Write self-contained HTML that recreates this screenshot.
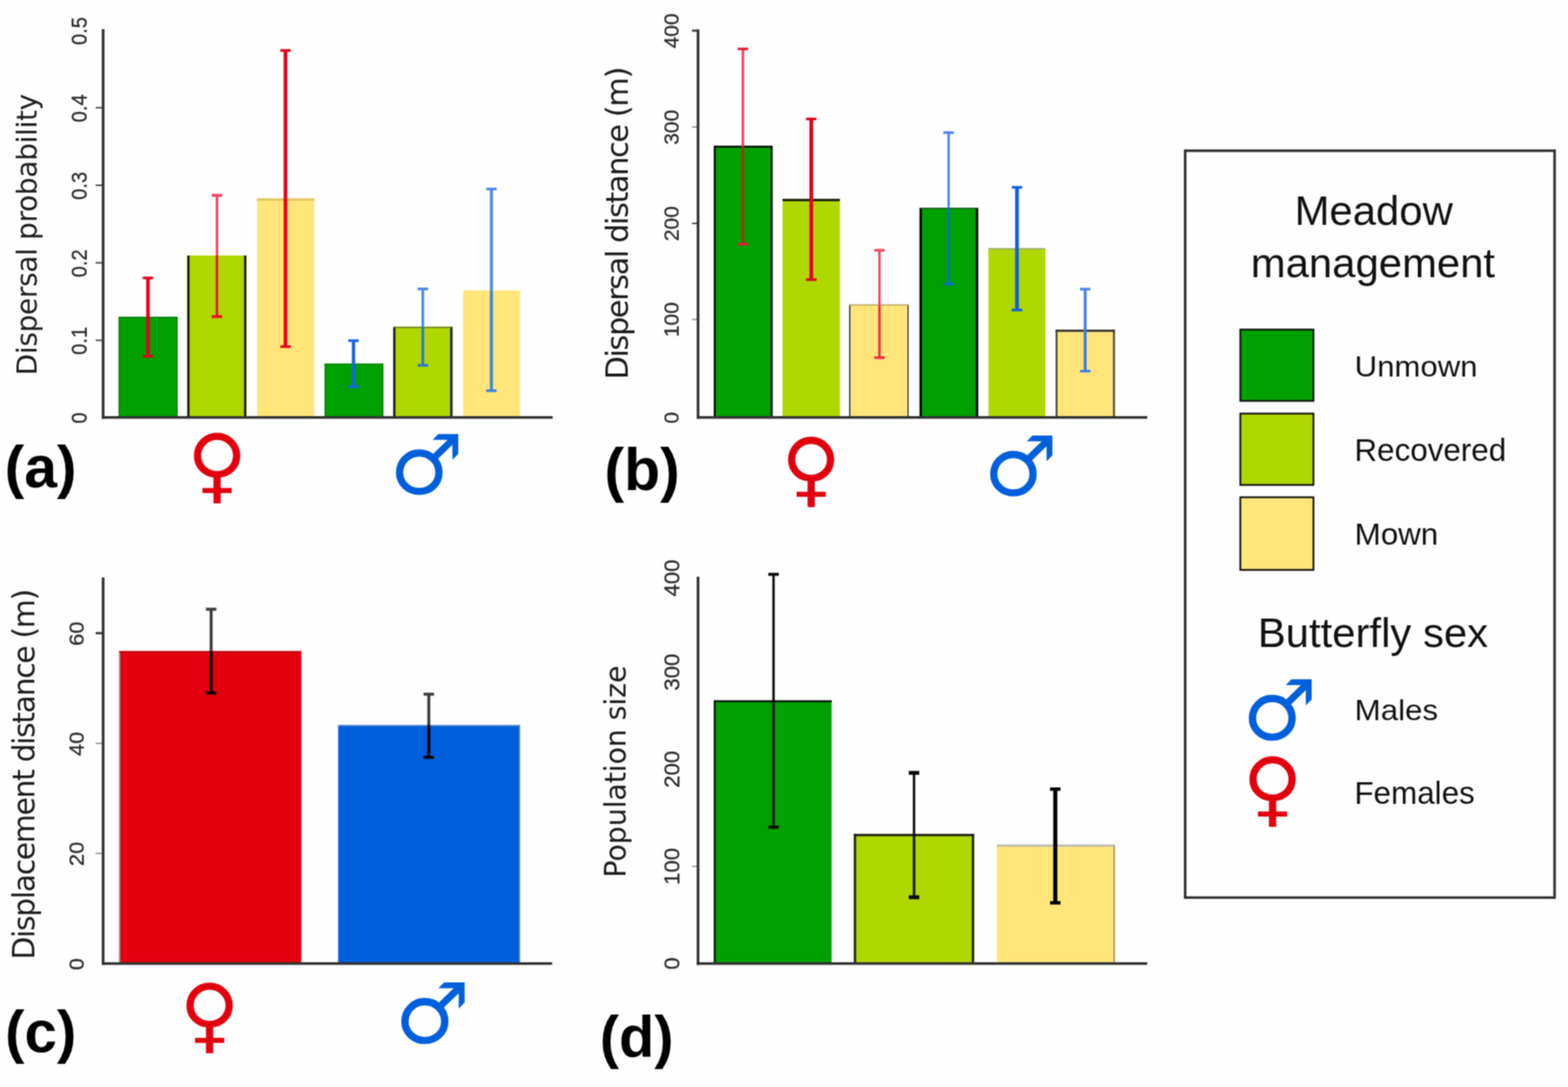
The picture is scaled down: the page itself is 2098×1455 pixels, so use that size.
<!DOCTYPE html>
<html lang="en">
<head>
<meta charset="utf-8">
<title>Dispersal figure</title>
<style>
html,body{margin:0;padding:0;background:#fefefe;}
body{width:2098px;height:1455px;overflow:hidden;}
svg{display:block;}
#wrap{width:2098px;height:1455px;}
text{font-family:"Liberation Sans",sans-serif;fill:#111;}
.tk{font-size:28.4px;fill:#2a2a2a;stroke:#2a2a2a;stroke-width:0.35px;}
.ax{font-family:"DejaVu Sans","Liberation Sans",sans-serif;font-size:36.7px;fill:#1c1c1c;}
.pl{font-family:"Liberation Sans",sans-serif;font-weight:bold;font-size:79px;fill:#000;}
.sym{font-family:"DejaVu Sans","Liberation Sans",sans-serif;font-size:112.5px;}
.lt{font-size:56px;fill:#111;}
.li{font-size:40px;fill:#111;}
</style>
</head>
<body>
<div id="wrap">
<svg width="2098" height="1455" viewBox="0 0 2098 1455">
<defs><filter id="soft" x="0" y="0" width="2098" height="1455" filterUnits="userSpaceOnUse" color-interpolation-filters="sRGB"><feConvolveMatrix order="3" kernelMatrix="1 2 1 2 4 2 1 2 1" divisor="16" edgeMode="duplicate" preserveAlpha="true"/></filter></defs>
<g id="fig" filter="url(#soft)">
<rect x="0" y="0" width="2098" height="1455" fill="#fefefe"/>

<g id="panel-a">
<rect x="158.75" y="424" width="78.75" height="134.75" fill="#00a000"/>
<rect x="158.75" y="424" width="1.5" height="134.75" fill="#007800"/>
<rect x="236" y="424" width="1.5" height="134.75" fill="#007800"/>
<rect x="158.75" y="424" width="78.75" height="1.5" fill="#007800"/>
<rect x="250.6" y="342" width="79" height="216.75" fill="#afd700"/>
<rect x="250.6" y="342" width="3" height="216.75" fill="#111"/>
<rect x="326.6" y="342" width="3" height="216.75" fill="#111"/>
<rect x="343.75" y="265.6" width="76.75" height="293.15" fill="#ffe57a"/>
<rect x="343.75" y="265.6" width="76.75" height="3" fill="#dcc462"/>
<rect x="434.5" y="486.75" width="78.5" height="72" fill="#00a000"/>
<rect x="434.5" y="486.75" width="1.5" height="72" fill="#007800"/>
<rect x="511.5" y="486.75" width="1.5" height="72" fill="#007800"/>
<rect x="434.5" y="486.75" width="78.5" height="1.5" fill="#007800"/>
<rect x="526" y="437.5" width="79.5" height="121.25" fill="#afd700"/>
<rect x="526" y="437.5" width="3.2" height="121.25" fill="#222"/>
<rect x="602.3" y="437.5" width="3.2" height="121.25" fill="#222"/>
<rect x="526" y="437.5" width="79.5" height="1.5" fill="#5a6e10"/>
<rect x="619.5" y="388.75" width="76.25" height="170" fill="#ffe57a"/>
<line x1="198" y1="372" x2="198" y2="477" stroke="#e3001a" stroke-width="4.8"/>
<line x1="191" y1="372" x2="205" y2="372" stroke="#e3001a" stroke-width="3.5"/>
<line x1="191" y1="477" x2="205" y2="477" stroke="#e3001a" stroke-width="3.5"/>
<line x1="290.3" y1="261.5" x2="290.3" y2="342" stroke="#f4405c" stroke-width="3.2"/>
<line x1="290.3" y1="342" x2="290.3" y2="423.75" stroke="#e81424" stroke-width="3.2"/>
<line x1="283.3" y1="261.5" x2="297.3" y2="261.5" stroke="#f4405c" stroke-width="4"/>
<line x1="283.3" y1="423.75" x2="297.3" y2="423.75" stroke="#e81424" stroke-width="4"/>
<line x1="382" y1="67.5" x2="382" y2="464" stroke="#e3001a" stroke-width="5"/>
<line x1="375" y1="67.5" x2="389" y2="67.5" stroke="#e3001a" stroke-width="3.5"/>
<line x1="375" y1="464" x2="389" y2="464" stroke="#e3001a" stroke-width="3.5"/>
<line x1="473" y1="456" x2="473" y2="517.5" stroke="#1565e0" stroke-width="4.5"/>
<line x1="466" y1="456" x2="480" y2="456" stroke="#1565e0" stroke-width="3.5"/>
<line x1="466" y1="517.5" x2="480" y2="517.5" stroke="#1565e0" stroke-width="3.5"/>
<line x1="565.75" y1="386.75" x2="565.75" y2="437.5" stroke="#4a86ea" stroke-width="3.5"/>
<line x1="565.75" y1="437.5" x2="565.75" y2="489" stroke="#2a78d0" stroke-width="3.5"/>
<line x1="558.75" y1="386.75" x2="572.75" y2="386.75" stroke="#4a86ea" stroke-width="3.5"/>
<line x1="558.75" y1="489" x2="572.75" y2="489" stroke="#2a78d0" stroke-width="3.5"/>
<line x1="657.5" y1="253" x2="657.5" y2="388.75" stroke="#4a86ea" stroke-width="4"/>
<line x1="657.5" y1="388.75" x2="657.5" y2="523" stroke="#3a80e0" stroke-width="4"/>
<line x1="650.5" y1="253" x2="664.5" y2="253" stroke="#4a86ea" stroke-width="3.5"/>
<line x1="650.5" y1="523" x2="664.5" y2="523" stroke="#3a80e0" stroke-width="3.5"/>
<text class="tk" style="font-size:30px;" text-anchor="middle" transform="translate(115.6,41.55) rotate(-90) scale(0.9,1)">0.5</text>
<line x1="128" y1="144.25" x2="138" y2="144.25" stroke="#444" stroke-width="2"/>
<text class="tk" style="font-size:30px;" text-anchor="middle" transform="translate(115.6,145.05) rotate(-90) scale(0.9,1)">0.4</text>
<line x1="128" y1="248" x2="138" y2="248" stroke="#444" stroke-width="2"/>
<text class="tk" style="font-size:30px;" text-anchor="middle" transform="translate(115.6,248.8) rotate(-90) scale(0.9,1)">0.3</text>
<line x1="128" y1="351.75" x2="138" y2="351.75" stroke="#444" stroke-width="2"/>
<text class="tk" style="font-size:30px;" text-anchor="middle" transform="translate(115.6,352.55) rotate(-90) scale(0.9,1)">0.2</text>
<line x1="128" y1="455.5" x2="138" y2="455.5" stroke="#444" stroke-width="2"/>
<text class="tk" style="font-size:30px;" text-anchor="middle" transform="translate(115.6,456.3) rotate(-90) scale(0.9,1)">0.1</text>
<text class="tk" style="font-size:30px;" text-anchor="middle" transform="translate(115.6,559.55) rotate(-90) scale(0.9,1)">0</text>
<line x1="138" y1="39" x2="138" y2="560.45" stroke="#303030" stroke-width="3.6"/>
<line x1="136.2" y1="558.75" x2="739.5" y2="558.75" stroke="#303030" stroke-width="3.4"/>
<text class="ax" style="font-size:37.6px;letter-spacing:-0.5px;" text-anchor="start" transform="translate(49.2,502.5) rotate(-90)">Dispersal probability</text>
<text class="pl" transform="translate(6.2,651.6) scale(1.02,1)" text-anchor="start" style="font-size:77.2px;">(a)</text>
<text class="sym" x="249.96" y="659.565" text-anchor="start" style="fill:#e2000f;font-size:110.5px;">♀</text>
<text class="sym" x="521.104" y="660.888" text-anchor="start" style="fill:#005fdb;font-size:111.2px;">♂</text>
</g>
<g id="panel-b">
<rect x="955" y="195" width="78.75" height="363.75" fill="#00a000"/>
<rect x="955" y="195" width="2.6" height="363.75" fill="#0a0a0a"/>
<rect x="1031.15" y="195" width="2.6" height="363.75" fill="#0a0a0a"/>
<rect x="955" y="195" width="78.75" height="2.6" fill="#0a0a0a"/>
<rect x="1047" y="266.25" width="76.75" height="292.5" fill="#afd700"/>
<rect x="1047" y="266.25" width="76.75" height="3" fill="#111"/>
<rect x="1136" y="407.5" width="80" height="151.25" fill="#ffe57a"/>
<rect x="1136" y="407.5" width="2" height="151.25" fill="#444"/>
<rect x="1214" y="407.5" width="2" height="151.25" fill="#555"/>
<rect x="1136" y="407.5" width="80" height="1.5" fill="#b0a060"/>
<rect x="1230.5" y="278" width="78.25" height="280.75" fill="#00a000"/>
<rect x="1230.5" y="278" width="3" height="280.75" fill="#000"/>
<rect x="1305.75" y="278" width="3" height="280.75" fill="#000"/>
<rect x="1230.5" y="278" width="78.25" height="1.5" fill="#225522"/>
<rect x="1322.5" y="332" width="76.25" height="226.75" fill="#afd700"/>
<rect x="1322.5" y="332" width="76.25" height="2" fill="#a0b070"/>
<rect x="1412.5" y="441.25" width="79.25" height="117.5" fill="#ffe57a"/>
<rect x="1412.5" y="441.25" width="2.5" height="117.5" fill="#443"/>
<rect x="1489.25" y="441.25" width="2.5" height="117.5" fill="#443"/>
<rect x="1412.5" y="441.25" width="79.25" height="3" fill="#333"/>
<line x1="994" y1="65.5" x2="994" y2="195" stroke="#f4405c" stroke-width="3.4"/>
<line x1="994" y1="195" x2="994" y2="326.75" stroke="#a83214" stroke-width="3.4"/>
<line x1="987" y1="65.5" x2="1001" y2="65.5" stroke="#e02030" stroke-width="3.5"/>
<line x1="987" y1="326.75" x2="1001" y2="326.75" stroke="#e02030" stroke-width="3.5"/>
<line x1="1085.5" y1="159.25" x2="1085.5" y2="374.25" stroke="#e3001a" stroke-width="5"/>
<line x1="1078.5" y1="159.25" x2="1092.5" y2="159.25" stroke="#e3001a" stroke-width="3.5"/>
<line x1="1078.5" y1="374.25" x2="1092.5" y2="374.25" stroke="#e3001a" stroke-width="3.5"/>
<line x1="1176.75" y1="335" x2="1176.75" y2="407.5" stroke="#f4405c" stroke-width="3.2"/>
<line x1="1176.75" y1="407.5" x2="1176.75" y2="478.75" stroke="#f02a40" stroke-width="3.2"/>
<line x1="1169.75" y1="335" x2="1183.75" y2="335" stroke="#f4405c" stroke-width="3.5"/>
<line x1="1169.75" y1="478.75" x2="1183.75" y2="478.75" stroke="#f02a40" stroke-width="3.5"/>
<line x1="1269.25" y1="177.5" x2="1269.25" y2="278" stroke="#4a86ea" stroke-width="3.2"/>
<line x1="1269.25" y1="278" x2="1269.25" y2="380" stroke="#0c6cc8" stroke-width="3.2"/>
<line x1="1262.25" y1="177.5" x2="1276.25" y2="177.5" stroke="#4a86ea" stroke-width="3.5"/>
<line x1="1262.25" y1="380" x2="1276.25" y2="380" stroke="#0c6cc8" stroke-width="3.5"/>
<line x1="1360.75" y1="250.75" x2="1360.75" y2="415" stroke="#0f5fe0" stroke-width="5"/>
<line x1="1353.75" y1="250.75" x2="1367.75" y2="250.75" stroke="#0f5fe0" stroke-width="3.5"/>
<line x1="1353.75" y1="415" x2="1367.75" y2="415" stroke="#0f5fe0" stroke-width="3.5"/>
<line x1="1452" y1="387" x2="1452" y2="441.25" stroke="#4a86ea" stroke-width="4"/>
<line x1="1452" y1="441.25" x2="1452" y2="496.75" stroke="#3a80e0" stroke-width="4"/>
<line x1="1445" y1="387" x2="1459" y2="387" stroke="#4a86ea" stroke-width="3.5"/>
<line x1="1445" y1="496.75" x2="1459" y2="496.75" stroke="#3a80e0" stroke-width="3.5"/>
<line x1="926" y1="41" x2="934" y2="41" stroke="#444" stroke-width="3"/>
<text class="tk" text-anchor="middle" transform="translate(907.95,41.4) rotate(-90) scale(0.99,1)">400</text>
<line x1="926" y1="170" x2="934" y2="170" stroke="#999" stroke-width="2"/>
<text class="tk" text-anchor="middle" transform="translate(907.95,170.4) rotate(-90) scale(0.99,1)">300</text>
<line x1="926" y1="299" x2="934" y2="299" stroke="#444" stroke-width="2"/>
<text class="tk" text-anchor="middle" transform="translate(907.95,299.4) rotate(-90) scale(0.99,1)">200</text>
<line x1="926" y1="427.5" x2="934" y2="427.5" stroke="#999" stroke-width="2"/>
<text class="tk" text-anchor="middle" transform="translate(907.95,427.9) rotate(-90) scale(0.99,1)">100</text>
<text class="tk" text-anchor="middle" transform="translate(907.95,559.15) rotate(-90) scale(0.99,1)">0</text>
<line x1="934" y1="39.5" x2="934" y2="560.45" stroke="#303030" stroke-width="3.6"/>
<line x1="932.2" y1="558.75" x2="1535" y2="558.75" stroke="#303030" stroke-width="3.4"/>
<text class="ax" style="font-size:40.8px;letter-spacing:-1.95px;" text-anchor="start" transform="translate(839.5,508) rotate(-90)">Dispersal distance (m)</text>
<text class="pl" x="808.8" y="656.2" text-anchor="start" style="font-size:79px;">(b)</text>
<text class="sym" x="1045.1" y="664.7" text-anchor="start" style="fill:#e2000f;font-size:110px;">♀</text>
<text class="sym" x="1316.12" y="663.09" text-anchor="start" style="fill:#005fdb;font-size:111px;">♂</text>
</g>
<g id="panel-c">
<rect x="159.5" y="871.6" width="243.75" height="418.15" fill="#e2000f"/>
<rect x="159.5" y="871.6" width="1.6" height="418.15" fill="#8a9a9a"/>
<rect x="159.5" y="871.6" width="243.75" height="2" fill="#b8000c"/>
<rect x="452.5" y="970.5" width="243.25" height="319.25" fill="#005fdb"/>
<rect x="694.25" y="970.5" width="1.5" height="319.25" fill="#7090c0"/>
<rect x="452.5" y="970.5" width="243.25" height="1.5" fill="#7090c0"/>
<line x1="282.5" y1="815.5" x2="282.5" y2="871.6" stroke="#3c3c3c" stroke-width="4"/>
<line x1="282.5" y1="871.6" x2="282.5" y2="927.5" stroke="#0a0000" stroke-width="4"/>
<line x1="275.5" y1="815.5" x2="289.5" y2="815.5" stroke="#3c3c3c" stroke-width="4"/>
<line x1="275.5" y1="927.5" x2="289.5" y2="927.5" stroke="#0a0000" stroke-width="4"/>
<line x1="573.75" y1="929.25" x2="573.75" y2="970.5" stroke="#3c3c3c" stroke-width="4"/>
<line x1="573.75" y1="970.5" x2="573.75" y2="1013.75" stroke="#00000a" stroke-width="4"/>
<line x1="566.75" y1="929.25" x2="580.75" y2="929.25" stroke="#3c3c3c" stroke-width="4"/>
<line x1="566.75" y1="1013.75" x2="580.75" y2="1013.75" stroke="#00000a" stroke-width="4"/>
<line x1="128" y1="847.5" x2="138" y2="847.5" stroke="#444" stroke-width="3.2"/>
<text class="tk" text-anchor="middle" transform="translate(111.7,848.3) rotate(-90) scale(1.03,1)">60</text>
<line x1="128" y1="995" x2="138" y2="995" stroke="#999" stroke-width="2"/>
<text class="tk" text-anchor="middle" transform="translate(111.7,995.8) rotate(-90) scale(1.03,1)">40</text>
<line x1="128" y1="1142.25" x2="138" y2="1142.25" stroke="#999" stroke-width="2"/>
<text class="tk" text-anchor="middle" transform="translate(111.7,1143.05) rotate(-90) scale(1.03,1)">20</text>
<text class="tk" text-anchor="middle" transform="translate(111.7,1290.55) rotate(-90) scale(1.03,1)">0</text>
<line x1="138" y1="773" x2="138" y2="1291.45" stroke="#303030" stroke-width="3.6"/>
<line x1="136.2" y1="1289.75" x2="738.75" y2="1289.75" stroke="#303030" stroke-width="3.4"/>
<text class="ax" style="font-size:40px;letter-spacing:-1.83px;" text-anchor="start" transform="translate(46,1284.4) rotate(-90)">Displacement distance (m)</text>
<text class="pl" x="6.8" y="1408.2" text-anchor="start" style="font-size:78px;">(c)</text>
<text class="sym" x="240.06" y="1395.96" text-anchor="start" style="fill:#e2000f;font-size:110.5px;">♀</text>
<text class="sym" x="528" y="1396.47" text-anchor="start" style="fill:#005fdb;font-size:112.5px;">♂</text>
</g>
<g id="panel-d">
<rect x="955" y="937.5" width="158" height="352.25" fill="#00a000"/>
<rect x="955" y="937.5" width="2.5" height="352.25" fill="#111"/>
<rect x="1112" y="937.5" width="1" height="352.25" fill="#30c050"/>
<rect x="955" y="937.5" width="158" height="2.5" fill="#111"/>
<rect x="1142.5" y="1116.3" width="160.9" height="173.45" fill="#afd700"/>
<rect x="1142.5" y="1116.3" width="3" height="173.45" fill="#1c1c1c"/>
<rect x="1300.4" y="1116.3" width="3" height="173.45" fill="#1c1c1c"/>
<rect x="1142.5" y="1116.3" width="160.9" height="3" fill="#1c1c1c"/>
<rect x="1333.75" y="1130.6" width="158" height="159.15" fill="#ffe57a"/>
<rect x="1489.75" y="1130.6" width="2" height="159.15" fill="#a89048"/>
<rect x="1333.75" y="1130.6" width="158" height="2.6" fill="#b4b6bc"/>
<line x1="1035" y1="768.75" x2="1035" y2="1107.25" stroke="#0a0a0a" stroke-width="3.2"/>
<line x1="1028" y1="768.75" x2="1042" y2="768.75" stroke="#0a0a0a" stroke-width="4"/>
<line x1="1028" y1="1107.25" x2="1042" y2="1107.25" stroke="#0a0a0a" stroke-width="4"/>
<line x1="1223" y1="1034.5" x2="1223" y2="1201" stroke="#0a0a0a" stroke-width="3.2"/>
<line x1="1216" y1="1034.5" x2="1230" y2="1034.5" stroke="#0a0a0a" stroke-width="5.2"/>
<line x1="1216" y1="1201" x2="1230" y2="1201" stroke="#0a0a0a" stroke-width="5.2"/>
<line x1="1412" y1="1056.25" x2="1412" y2="1208.5" stroke="#000" stroke-width="5.5"/>
<line x1="1405" y1="1056.25" x2="1419" y2="1056.25" stroke="#000" stroke-width="4.5"/>
<line x1="1405" y1="1208.5" x2="1419" y2="1208.5" stroke="#000" stroke-width="4.5"/>
<text class="tk" style="font-size:29.8px;" text-anchor="middle" transform="translate(909.2,773.75) rotate(-90)">400</text>
<text class="tk" style="font-size:29.8px;" text-anchor="middle" transform="translate(909.2,899.75) rotate(-90)">300</text>
<text class="tk" style="font-size:29.8px;" text-anchor="middle" transform="translate(909.2,1029.75) rotate(-90)">200</text>
<line x1="926" y1="1159.75" x2="934" y2="1159.75" stroke="#999" stroke-width="2"/>
<text class="tk" style="font-size:29.8px;" text-anchor="middle" transform="translate(909.2,1159.75) rotate(-90)">100</text>
<text class="tk" style="font-size:29.8px;" text-anchor="middle" transform="translate(909.2,1289.75) rotate(-90)">0</text>
<line x1="934" y1="772" x2="934" y2="1291.45" stroke="#303030" stroke-width="3.6"/>
<line x1="932.2" y1="1289.75" x2="1535" y2="1289.75" stroke="#303030" stroke-width="3.4"/>
<text class="ax" style="font-size:38.4px;letter-spacing:-0.3px;" text-anchor="start" transform="translate(837.3,1174.8) rotate(-90)">Population size</text>
<text class="pl" x="802.5" y="1414.5" text-anchor="start" style="font-size:77.3px;">(d)</text>
</g>
<g id="legend">
<rect x="1585.75" y="201.75" width="494.3" height="999.7" fill="none" stroke="#2e2e2e" stroke-width="3.4"/>
<text class="lt" x="1838" y="301.25" text-anchor="middle">Meadow</text>
<text class="lt" x="1837" y="371.25" text-anchor="middle">management</text>
<rect x="1659.6" y="441.1" width="97.8" height="95.5" fill="#00a000" stroke="#111" stroke-width="2.4"/>
<rect x="1659.6" y="553.6" width="97.8" height="95.5" fill="#afd700" stroke="#111" stroke-width="2.4"/>
<rect x="1659.6" y="665.6" width="97.8" height="97.25" fill="#ffe57a" stroke="#111" stroke-width="2.4"/>
<text class="li" transform="translate(1812.6,503.5) scale(1.085,1)" text-anchor="start" style="font-size:38.4px;">Unmown</text>
<text class="li" transform="translate(1812.2,617.3) scale(1,1)" text-anchor="start" style="font-size:42px;">Recovered</text>
<text class="li" transform="translate(1812.4,728.9) scale(1.05,1)" text-anchor="start" style="font-size:40px;">Mown</text>
<text class="lt" x="1837" y="866.25" text-anchor="middle">Butterfly sex</text>
<text class="sym" x="1662.04" y="990.38" text-anchor="start" style="fill:#005fdb;font-size:112px;">♂</text>
<text class="li" transform="translate(1812.6,963.6) scale(1.09,1)" text-anchor="start" style="font-size:38.4px;">Males</text>
<text class="sym" x="1662.16" y="1093.37" text-anchor="start" style="fill:#e2000f;font-size:110.5px;">♀</text>
<text class="li" transform="translate(1812.2,1076) scale(1.01,1)" text-anchor="start" style="font-size:41.6px;">Females</text>
</g>
</g>
</svg>
</div>
</body>
</html>
